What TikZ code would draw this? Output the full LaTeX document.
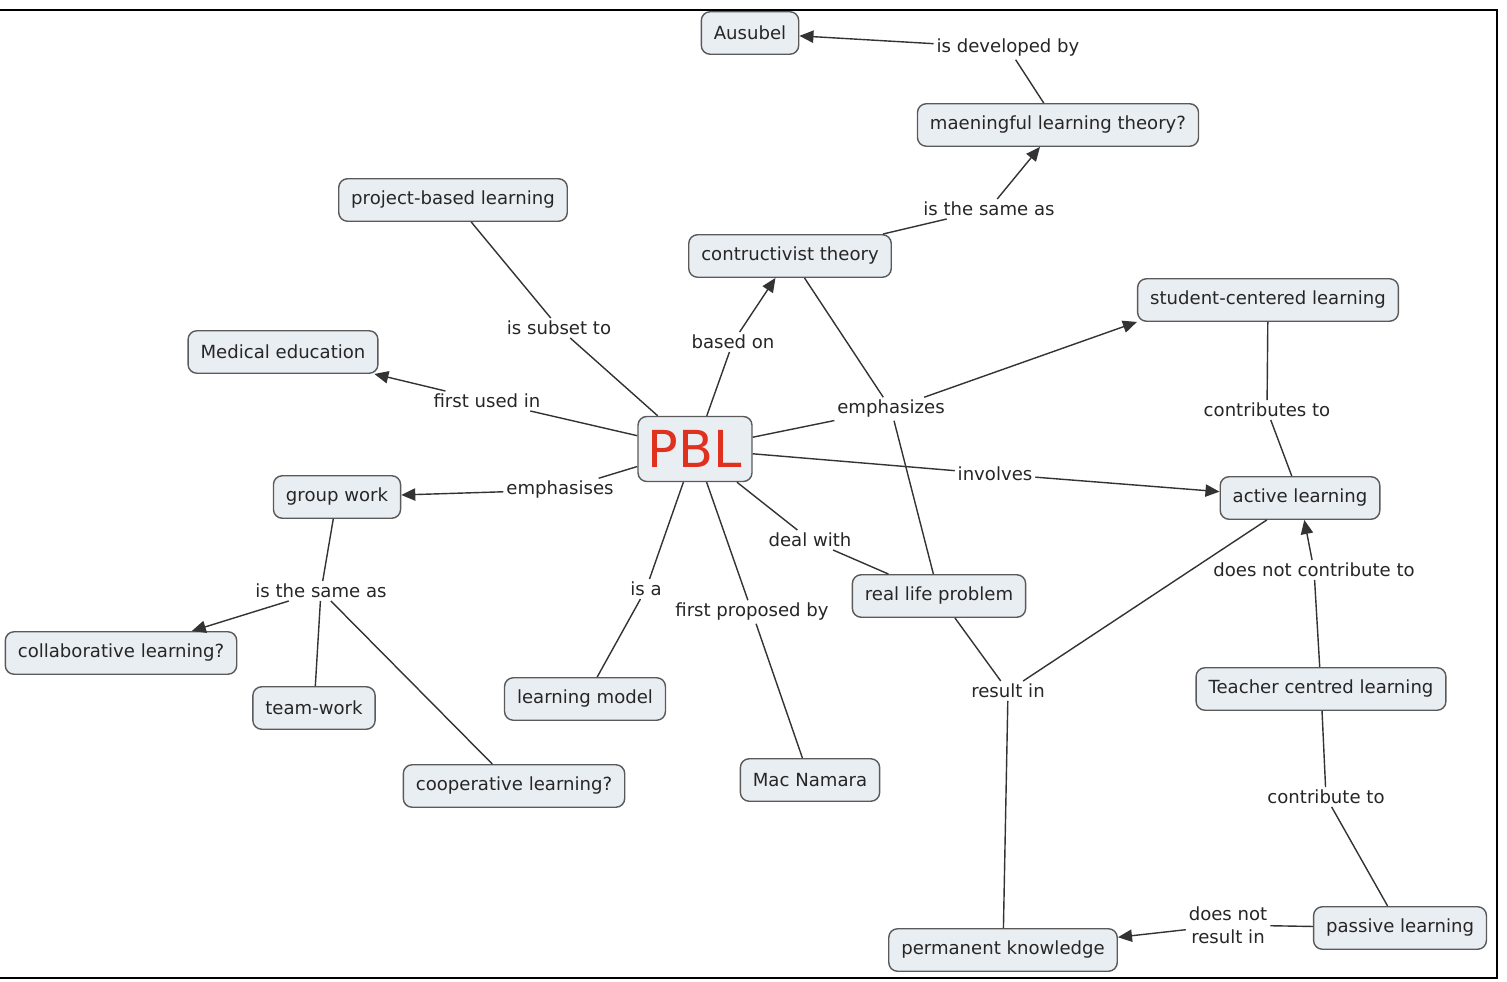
\documentclass[tikz,border=0pt]{standalone}
\usepackage{fontspec}
\setmainfont{DejaVu Sans}
\usetikzlibrary{arrows.meta}
\definecolor{boxfill}{HTML}{E9EEF3}
\definecolor{boxdraw}{HTML}{5A5A5A}
\definecolor{pblred}{HTML}{E0301E}
\begin{document}
\begin{tikzpicture}[x=0.02cm,y=-0.02cm,
  concept/.style={draw=boxdraw,line width=0.8pt,fill=boxfill,rounded corners=5pt,minimum height=0.85cm,inner xsep=0.25cm,font=\fontsize{10.3}{12}\selectfont,text=black!85},
  lab/.style={fill=white,inner sep=1.5pt,font=\fontsize{10.3}{12}\selectfont,text=black!85,align=center},
  ln/.style={draw=black!80,line width=0.8pt},
  ar/.style={ln,-{Triangle[length=8pt,width=7pt]}}]
\useasboundingbox (0,0) rectangle (1507,982);
\draw[line width=1pt] (0,10) -- (1497,10) -- (1497,978) -- (0,978);
% concepts
\node[concept] (aus) at (750,33) {Ausubel};
\node[concept] (mlt) at (1058,125) {maeningful learning theory?};
\node[concept] (pbl2) at (453,200) {project-based learning};
\node[concept] (ct) at (790,256) {contructivist theory};
\node[concept] (scl) at (1268,300) {student-centered learning};
\node[concept] (med) at (283,352) {Medical education};
\node[concept,font=\fontsize{29}{30}\selectfont,text=pblred,minimum height=1.3cm,inner xsep=0.2cm] (pbl) at (695,449) {PBL};
\node[concept] (gw) at (337,497) {group work};
\node[concept] (al) at (1300,498) {active learning};
\node[concept] (rlp) at (939,596) {real life problem};
\node[concept] (col) at (121,653) {collaborative learning?};
\node[concept] (tw) at (314,708) {team-work};
\node[concept] (lm) at (585,699) {learning model};
\node[concept] (tcl) at (1321,689) {Teacher centred learning};
\node[concept] (coop) at (514,786) {cooperative learning?};
\node[concept] (mac) at (810,780) {Mac Namara};
\node[concept] (pk) at (1003,950) {permanent knowledge};
\node[concept] (pl) at (1400,928) {passive learning};
% labels
\node[lab] (l1) at (1008,48) {is developed by};
\node[lab] (l2) at (989,209) {is the same as};
\node[lab] (l3) at (559,328) {is subset to};
\node[lab] (l4) at (733,342) {based on};
\node[lab] (l5) at (487,401) {first used in};
\node[lab] (l6) at (891,409) {emphasizes};
\node[lab] (l7) at (1267,410) {contributes to};
\node[lab] (l8) at (995,474) {involves};
\node[lab] (l9) at (560,490) {emphasises};
\node[lab] (l10) at (810,540) {deal with};
\node[lab] (l11) at (1314,570) {does not contribute to};
\node[lab] (l12) at (321,591) {is the same as};
\node[lab] (l13) at (646,589) {is a};
\node[lab] (l14) at (752,612) {first proposed by};
\node[lab] (l15) at (1008,691) {result in};
\node[lab] (l16) at (1326,797) {contribute to};
\node[lab,font=\fontsize{10.3}{13}\selectfont] (l17) at (1228,925) {does not\\ result in};
% connectors
\draw[ln] (mlt) -- (l1); \draw[ar] (l1) -- (aus);
\draw[ln] (ct) -- (l2); \draw[ar] (l2) -- (mlt);
\draw[ln] (pbl) -- (l3); \draw[ln] (l3) -- (pbl2);
\draw[ln] (pbl) -- (l4); \draw[ar] (l4) -- (ct);
\draw[ln] (pbl) -- (l5); \draw[ar] (l5) -- (med);
\draw[ln] (pbl) -- (l6); \draw[ar] (l6) -- (scl.south west);
\draw[ln] (ct) -- (l6); \draw[ln] (l6) -- (rlp);
\draw[ln] (scl) -- (l7); \draw[ln] (l7) -- (al);
\draw[ln] (pbl) -- (l8); \draw[ar] (l8) -- (al);
\draw[ln] (pbl) -- (l9); \draw[ar] (l9) -- (gw);
\draw[ln] (pbl) -- (l10); \draw[ln] (l10) -- (rlp);
\draw[ln] (tcl) -- (l11); \draw[ar] (l11) -- (al);
\draw[ln] (gw) -- (l12); \draw[ar] (l12) -- (col);
\draw[ln] (l12) -- (tw); \draw[ln] (l12) -- (coop);
\draw[ln] (pbl) -- (l13); \draw[ln] (l13) -- (lm);
\draw[ln] (pbl) -- (l14); \draw[ln] (l14) -- (mac);
\draw[ln] (rlp) -- (l15); \draw[ln] (l15) -- (pk); \draw[ln] (l15) -- (al);
\draw[ln] (tcl) -- (l16); \draw[ln] (l16) -- (pl);
\draw[ln] (pl) -- (l17); \draw[ar] (l17) -- (pk);
\end{tikzpicture}
\end{document}
